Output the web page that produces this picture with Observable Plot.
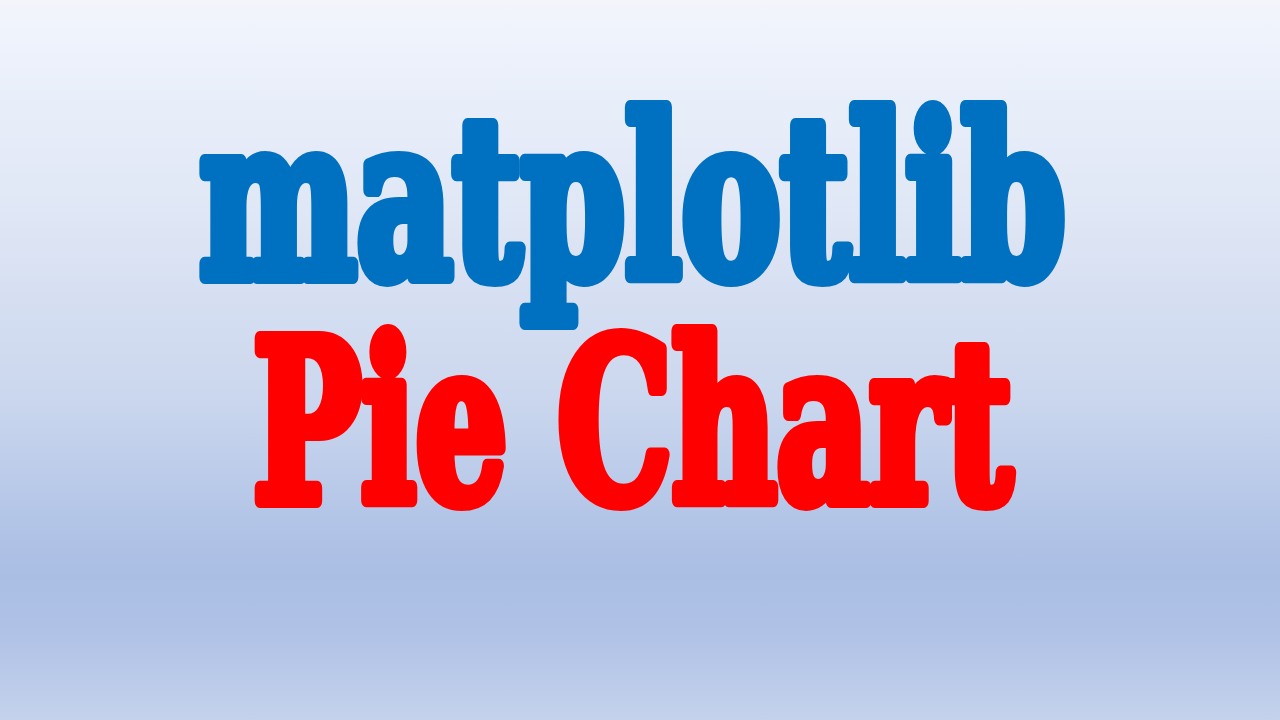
<!DOCTYPE html>
<html>
<head>
<meta charset="utf-8">
<script src="https://cdn.jsdelivr.net/npm/d3@7"></script>
<script src="https://cdn.jsdelivr.net/npm/@observablehq/plot@0.6"></script>
<style>
  html, body { margin: 0; padding: 0; width: 1280px; height: 720px; overflow: hidden; }
  body { background: linear-gradient(to bottom, #f4f5fb 0%, #eef3fc 5%, #dfe6f5 30%, #cbd7ee 55%, #b3c5e7 72%, #aabde3 80%, #b0c2e6 88%, #c4d2ec 100%); }
</style>
</head>
<body>
<div id="chart"></div>
<script>
// Title lines of the card
const lines = ["matplotlib", "Pie Chart"];
const lineColors = ["#0070c0", "#ff0000"];

const fit = {"matplotlib": 866, "Pie Chart": 759};

const chart = Plot.plot({
  width: 1280,
  height: 720,
  marginTop: 276,
  marginBottom: 220,
  marginLeft: 0,
  marginRight: 16,
  style: {background: "transparent", overflow: "visible"},
  y: {type: "point", domain: lines, padding: 0, axis: null},
  color: {domain: lines, range: lineColors},
  marks: [
    Plot.text(lines, {
      y: d => d,
      text: d => d,
      fill: d => d,
      stroke: d => d,
      strokeWidth: 14,
      strokeLinejoin: "round",
      frameAnchor: "middle",
      lineAnchor: "bottom",
      fontSize: 222,
      fontWeight: "bold",
      fontFamily: "'DejaVu Serif Condensed', 'DejaVu Serif', serif"
    })
  ]
});

chart.querySelectorAll("text").forEach(t => {
  const s = t.textContent;
  if (fit[s]) {
    t.setAttribute("textLength", fit[s]);
    t.setAttribute("lengthAdjust", "spacingAndGlyphs");
  }
});

document.getElementById("chart").appendChild(chart);
</script>
</body>
</html>
